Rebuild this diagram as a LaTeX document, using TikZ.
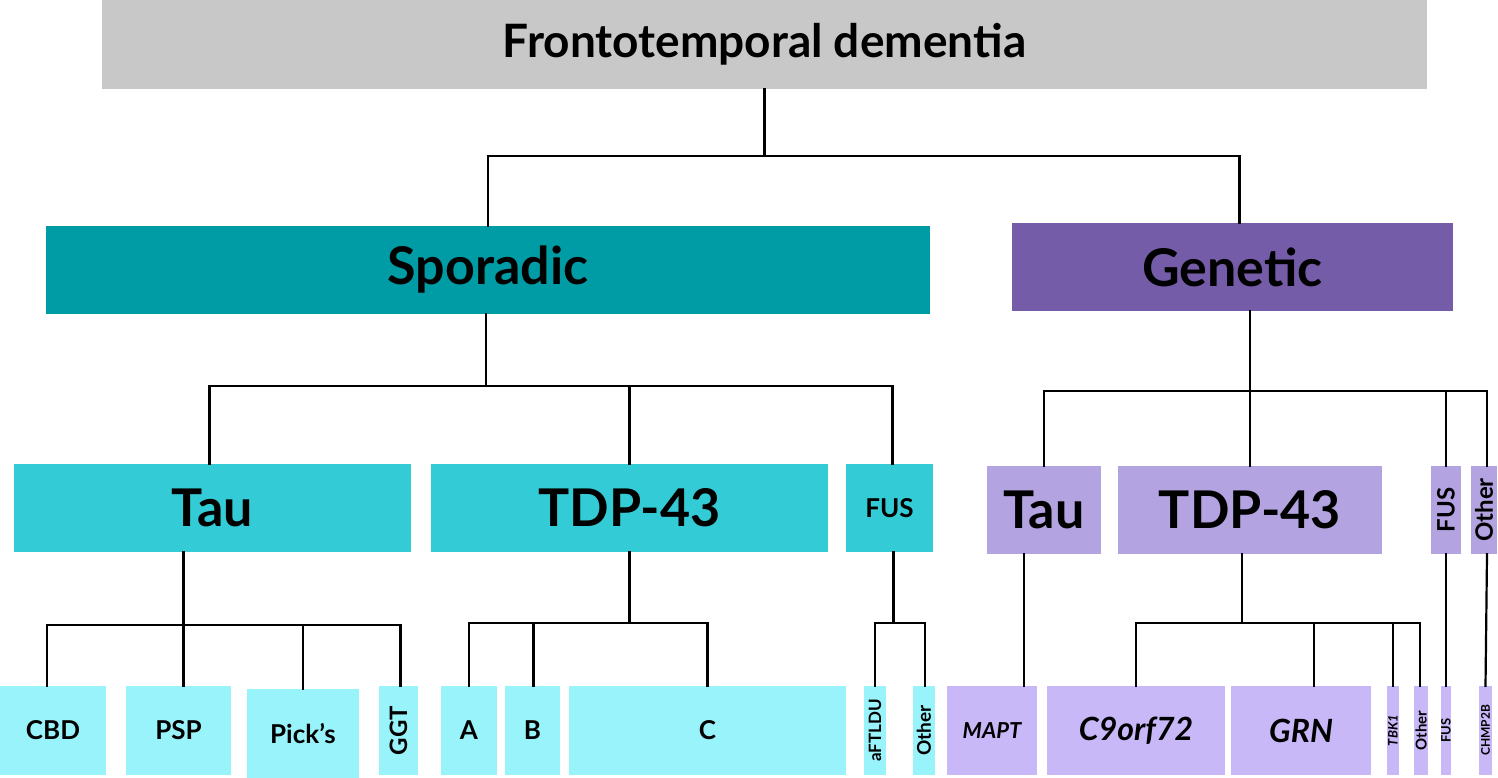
\documentclass[tikz,border=0pt]{standalone}
\usepackage{fontspec}
\setmainfont{Lato}
\usetikzlibrary{calc}
\definecolor{ftd}{HTML}{C8C8C8}
\definecolor{spor}{HTML}{009CA6}
\definecolor{gen}{HTML}{745CA8}
\definecolor{smid}{HTML}{33CCD6}
\definecolor{gmid}{HTML}{B3A3E0}
\definecolor{slow}{HTML}{99F3FA}
\definecolor{glow}{HTML}{C9B8F8}
\tikzset{box/.style={inner sep=0pt,font=\bfseries},
 ln/.style={line width=2.2pt,line cap=rect}}
\newcommand{\bx}[8][]{% [extra]{name}{x1}{y1}{x2}{y2}{color}{text}
 \node[box,fill=#7,minimum width={(#5-#3)*1pt},minimum height={(#6-#4)*1pt},#1] (#2) at ({(#3+#5)/2},{(#4+#6)/2}) {#8};}
\begin{document}
\begin{tikzpicture}[x=1pt,y=-1pt]
\useasboundingbox (0,0) rectangle (1498,778);
\bx[font=\bfseries\fontsize{46}{50}\selectfont]{ftdn}{102}{0}{1427}{89}{ftd}{Frontotemporal dementia}
\bx[font=\bfseries\fontsize{52}{56}\selectfont]{sp}{46}{226}{930}{314}{spor}{Sporadic}
\bx[font=\bfseries\fontsize{52}{56}\selectfont]{ge}{1012}{223}{1453}{311}{gen}{Genetic}
\bx[font=\bfseries\fontsize{52}{56}\selectfont]{stau}{14}{464}{411}{552}{smid}{Tau}
\bx[font=\bfseries\fontsize{52}{56}\selectfont]{stdp}{431}{464}{828}{552}{smid}{TDP-43}
\bx[font=\bfseries\fontsize{26}{30}\selectfont]{sfus}{846}{464}{933}{552}{smid}{FUS}
\bx[font=\bfseries\fontsize{52}{56}\selectfont]{gtau}{987}{466}{1101}{554}{gmid}{Tau}
\bx[font=\bfseries\fontsize{52}{56}\selectfont]{gtdp}{1118}{466}{1382}{554}{gmid}{TDP-43}
\bx[font=\bfseries\fontsize{24}{28}\selectfont]{gfus}{1431}{466}{1461}{554}{gmid}{\rotatebox{90}{FUS}}
\bx[font=\bfseries\fontsize{24}{28}\selectfont]{goth}{1471}{466}{1497}{554}{gmid}{\rotatebox{90}{Other}}
% bottom sporadic
\bx[font=\bfseries\fontsize{26}{30}\selectfont]{cbd}{0}{686}{106}{775}{slow}{CBD}
\bx[font=\bfseries\fontsize{26}{30}\selectfont]{psp}{126}{686}{231}{775}{slow}{PSP}
\bx[font=\bfseries\fontsize{26}{30}\selectfont]{pick}{247}{689}{359}{778}{slow}{Pick’s}
\bx[font=\bfseries\fontsize{24}{28}\selectfont]{ggt}{379}{686}{418}{775}{slow}{\rotatebox{90}{GGT}}
\bx[font=\bfseries\fontsize{26}{30}\selectfont]{a}{441}{686}{497}{775}{slow}{A}
\bx[font=\bfseries\fontsize{26}{30}\selectfont]{b}{505}{686}{560}{775}{slow}{B}
\bx[font=\bfseries\fontsize{26}{30}\selectfont]{c}{569}{686}{846}{775}{slow}{C}
\bx[font=\bfseries\fontsize{17}{20}\selectfont]{aftldu}{864}{686}{886}{775}{slow}{\rotatebox{90}{aFTLDU}}
\bx[font=\bfseries\fontsize{19}{22}\selectfont]{soth}{913}{686}{935}{775}{slow}{\rotatebox{90}{Other}}
% bottom genetic
\bx[font=\bfseries\itshape\fontsize{22}{26}\selectfont]{mapt}{947}{686}{1037}{775}{glow}{MAPT}
\bx[font=\bfseries\itshape\fontsize{32}{36}\selectfont]{c9}{1047}{686}{1225}{775}{glow}{C9orf72}
\bx[font=\bfseries\itshape\fontsize{32}{36}\selectfont]{grn}{1231}{686}{1371}{775}{glow}{GRN}
\bx[font=\bfseries\itshape\fontsize{13}{15}\selectfont]{tbk}{1387}{686}{1399}{775}{glow}{\rotatebox{90}{TBK1}}
\bx[font=\bfseries\fontsize{15}{17}\selectfont]{gooth}{1414}{686}{1428}{775}{glow}{\rotatebox{90}{Other}}
\bx[font=\bfseries\fontsize{13}{15}\selectfont]{gbfus}{1441}{686}{1451}{775}{glow}{\rotatebox{90}{FUS}}
\bx[font=\bfseries\fontsize{12}{14}\selectfont]{chmp}{1479}{686}{1492}{775}{glow}{\rotatebox{90}{CHMP2B}}
% connectors
\draw[ln] (ftdn.south) -- ++(0,67) -| (sp.north);
\draw[ln] (ftdn.south) -- ++(0,67) -| ([xshift=7pt]ge.north);
\draw[ln] ([xshift=-2pt]sp.south) -- ++(0,72) -| ([xshift=-3pt]stau.north);
\draw[ln] ([xshift=-2pt]sp.south) -- ++(0,72) -| (stdp.north);
\draw[ln] ([xshift=-2pt]sp.south) -- ++(0,72) -| ([xshift=3pt]sfus.north);
\draw[ln] (ge.south -| gtdp.north) -- ++(0,80) -| (gtau.north);
\draw[ln] (ge.south -| gtdp.north) -- (gtdp.north);
\draw[ln] (ge.south -| gtdp.north) -- ++(0,80) -| (gfus.north);
\draw[ln] (ge.south -| gtdp.north) -- ++(0,80) -| ([xshift=3pt]goth.north);
\draw[ln] ([xshift=-29pt]stau.south) -- ++(0,73) -| ([xshift=-6pt]cbd.north);
\draw[ln] ([xshift=-29pt]stau.south) -- ++(0,73) -| ([xshift=5pt]psp.north);
\draw[ln] ([xshift=-29pt]stau.south) -- ++(0,73) -| (pick.north);
\draw[ln] ([xshift=-29pt]stau.south) -- ++(0,73) -| ([xshift=2pt]ggt.north);
\draw[ln] (stdp.south) -- ++(0,71) -| (a.north);
\draw[ln] (stdp.south) -- ++(0,71) -| ([xshift=1pt]b.north);
\draw[ln] (stdp.south) -- ++(0,71) -| (c.north);
\draw[ln] ([xshift=4pt]sfus.south) -- ++(0,71) -| (aftldu.north);
\draw[ln] ([xshift=4pt]sfus.south) -- ++(0,71) -| ([xshift=1pt]soth.north);
\draw[ln] ([xshift=-20pt]gtau.south) -- ([xshift=32pt]mapt.north);
\draw[ln] ([xshift=-8pt]gtdp.south) -- ++(0,69) -| (c9.north);
\draw[ln] ([xshift=-8pt]gtdp.south) -- ++(0,69) -| ([xshift=13pt]grn.north);
\draw[ln] ([xshift=-8pt]gtdp.south) -- ++(0,69) -| (tbk.north);
\draw[ln] ([xshift=-8pt]gtdp.south) -- ++(0,69) -| ([xshift=-1pt]gooth.north);
\draw[ln] (gfus.south) -- (gbfus.north);
\draw[ln] ([xshift=3pt]goth.south) -- (chmp.north);
\end{tikzpicture}
\end{document}
